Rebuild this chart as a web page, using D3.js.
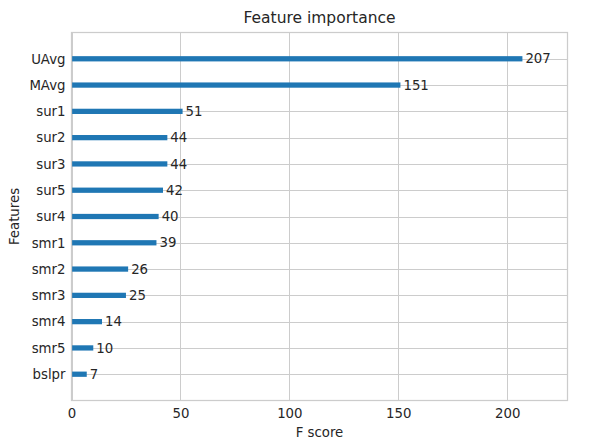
<!DOCTYPE html>
<html>
<head>
<meta charset="utf-8">
<script src="https://cdn.jsdelivr.net/npm/d3@7"></script>
<style>
  body { margin: 0; background: #fff; }
  text { font-family: "DejaVu Sans", sans-serif; fill: #262626; }
</style>
</head>
<body>
<svg id="chart" width="612" height="447"></svg>
<script>
// feature names, bottom to top
var features = ["bslpr", "smr5", "smr4", "smr3", "smr2", "smr1", "sur4", "sur5", "sur3", "sur2", "sur1", "MAvg", "UAvg"]
var scores = [7, 10, 14, 25, 26, 39, 40, 42, 44, 44, 51, 151, 207]
var xTicks = [0, 50, 100, 150, 200]

var plotLeft = 71.5, plotRight = 567.5, plotTop = 32.5, plotBottom = 400.5

var svg = d3.select("#chart")

var x = d3.scaleLinear()
    .domain([0, d3.max(scores) * 1.1])
    .range([plotLeft, plotRight])

// index -1 .. n, like the matplotlib ylim
var y = d3.scaleLinear()
    .domain([-1, features.length])
    .range([plotBottom, plotTop])

var barH = y(0) - y(0.2)

// grid
svg.append("g")
    .selectAll("line")
    .data(xTicks)
    .enter()
    .append("line")
    .attr("x1", d => Math.round(x(d)) + 0.5)
    .attr("x2", d => Math.round(x(d)) + 0.5)
    .attr("y1", plotTop)
    .attr("y2", plotBottom)
    .attr("stroke", "#cccccc")
    .attr("stroke-width", 1)

svg.append("g")
    .selectAll("line")
    .data(features)
    .enter()
    .append("line")
    .attr("x1", plotLeft)
    .attr("x2", plotRight)
    .attr("y1", (d, i) => Math.round(y(i)) + 0.5)
    .attr("y2", (d, i) => Math.round(y(i)) + 0.5)
    .attr("stroke", "#cccccc")
    .attr("stroke-width", 1)

// bars
svg.append("g")
    .selectAll("rect")
    .data(scores)
    .enter()
    .append("rect")
    .attr("x", x(0))
    .attr("y", (d, i) => y(i) - barH / 2)
    .attr("width", d => x(d) - x(0))
    .attr("height", barH)
    .attr("fill", "#1f77b4")

// value labels
svg.append("g")
    .selectAll("text")
    .data(scores)
    .enter()
    .append("text")
    .attr("x", d => x(d) + 3)
    .attr("y", (d, i) => y(i))
    .attr("dy", "0.35em")
    .attr("font-size", "13.3px")
    .text(d => d)

// frame
svg.append("rect")
    .attr("x", plotLeft)
    .attr("y", plotTop)
    .attr("width", plotRight - plotLeft)
    .attr("height", plotBottom - plotTop)
    .attr("fill", "none")
    .attr("stroke", "#cccccc")
    .attr("stroke-width", 1.25)

// axes
var xAxis = svg.append("g")
    .attr("transform", "translate(0," + plotBottom + ")")
    .call(d3.axisBottom(x).tickValues(xTicks).tickSize(0).tickPadding(8))
xAxis.select(".domain").remove()
xAxis.selectAll("text").attr("font-size", "13.3px").attr("fill", "#262626")

var yAxis = svg.append("g")
    .attr("transform", "translate(" + plotLeft + ",0)")
    .call(d3.axisLeft(y).tickValues(d3.range(features.length)).tickFormat(i => features[i]).tickSize(0).tickPadding(6))
yAxis.select(".domain").remove()
yAxis.selectAll("text").attr("font-size", "13.3px").attr("fill", "#262626")

// titles
svg.append("text")
    .attr("x", (plotLeft + plotRight) / 2)
    .attr("y", 23)
    .attr("text-anchor", "middle")
    .attr("font-size", "15.5px")
    .text("Feature importance")

svg.append("text")
    .attr("x", (plotLeft + plotRight) / 2)
    .attr("y", 437)
    .attr("text-anchor", "middle")
    .attr("font-size", "13.3px")
    .text("F score")

svg.append("text")
    .attr("transform", "translate(19," + (plotTop + plotBottom) / 2 + ") rotate(-90)")
    .attr("text-anchor", "middle")
    .attr("font-size", "13.3px")
    .text("Features")
</script>
</body>
</html>
